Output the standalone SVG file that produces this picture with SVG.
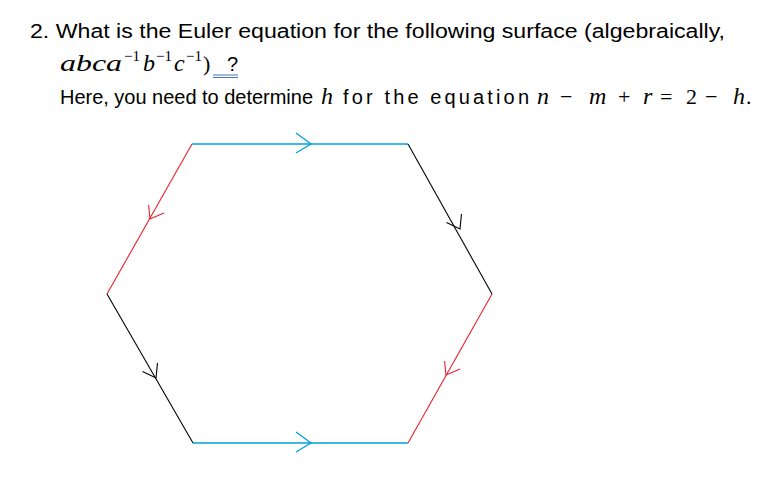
<svg xmlns="http://www.w3.org/2000/svg" width="774" height="498" viewBox="0 0 774 498">
<style>
.t{font-family:"Liberation Sans",sans-serif;font-size:20px;fill:#000}
.m{font-family:"Liberation Serif",serif;font-style:italic;font-size:24px;fill:#000}
.o{font-family:"Liberation Serif",serif;font-size:22px;fill:#000}
.s{font-family:"Liberation Serif",serif;font-size:15px;fill:#000}
.b{stroke:#00a0dc;stroke-width:1.3;fill:none}
.r{stroke:#e8202a;stroke-width:1.1;fill:none}
.k{stroke:#000;stroke-width:1.1;fill:none}
</style>
<rect width="774" height="498" fill="#fff"/>
<g id="text">
<text class="t" x="30" y="38" textLength="695" lengthAdjust="spacingAndGlyphs">2. What is the Euler equation for the following surface (algebraically,</text>
<text class="m" x="60" y="71" textLength="62" lengthAdjust="spacingAndGlyphs">abca</text>
<text class="s" x="124" y="61">−1</text>
<text class="m" x="143" y="71">b</text>
<text class="s" x="156" y="61">−1</text>
<text class="m" x="174" y="71">c</text>
<text class="s" x="186" y="61">−1</text>
<text class="o" x="203" y="71">)</text>
<text class="t" x="227" y="71">?</text>
<line x1="213" y1="75" x2="238" y2="75" stroke="#4472c4" stroke-width="1"/>
<line x1="213" y1="77.5" x2="238" y2="77.5" stroke="#4472c4" stroke-width="1"/>
<text class="t" x="60" y="104" textLength="253" lengthAdjust="spacing">Here, you need to determine</text>
<text class="m" x="321" y="104">h</text>
<text class="t" x="343" y="104" textLength="186" lengthAdjust="spacing">for the equation</text>
<text class="m" x="537" y="104">n</text>
<text class="o" x="560" y="104">−</text>
<text class="m" x="589" y="104">m</text>
<text class="o" x="618" y="104">+</text>
<text class="m" x="643" y="104">r</text>
<text class="o" x="660" y="104">=</text>
<text class="o" x="686" y="104">2</text>
<text class="o" x="705" y="104">−</text>
<text class="m" x="733" y="104">h</text>
<text class="o" x="746" y="104">.</text>
</g>
<g id="connectors">
<line class="b" x1="192" y1="144" x2="408" y2="144"/>
<line class="b" x1="193" y1="443" x2="408" y2="443"/>
<line class="r" x1="192" y1="144" x2="107" y2="294"/>
<line class="r" x1="492" y1="294" x2="408" y2="443"/>
<line class="k" x1="408" y1="144" x2="492" y2="294"/>
<line class="k" x1="107" y1="294" x2="193" y2="443"/>
<polyline class="b" points="296,133 311,144 296,153"/>
<polyline class="b" points="296,432 311,443 296,452"/>
<polyline class="r" points="148.6,205 150,219 164,213"/>
<polyline class="r" points="444.6,361 446,375 460,369"/>
<polyline class="k" points="461.5,214 460,229 446.5,222.5"/>
<polyline class="k" points="157.5,363 156,378 142.5,371.5"/>
</g>
</svg>
